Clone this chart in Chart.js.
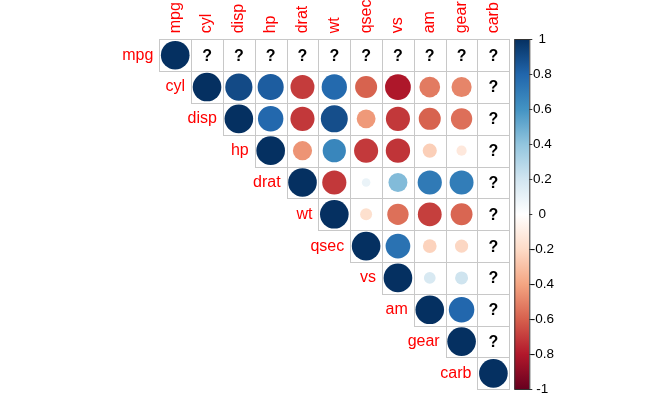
<!DOCTYPE html>
<html><head><meta charset="utf-8">
<script src="https://cdn.jsdelivr.net/npm/chart.js@4/dist/chart.umd.min.js"></script>
<style>html,body{margin:0;padding:0;background:#fff}#wrap{width:670px;height:394px}</style>
</head><body><div id="wrap"><canvas id="c" width="670" height="394"></canvas></div>
<script>
// variable names (categories)
const vars = ["mpg","cyl","disp","hp","drat","wt","qsec","vs","am","gear","carb"];
// upper-triangle correlations, each row starts at its diagonal; null = NA ("?")
const rowMpg  = [1, null, null, null, null, null, null, null, null, null, null];
const rowCyl  = [1, 0.902, 0.832, -0.700, 0.782, -0.591, -0.811, -0.523, -0.493, null];
const rowDisp = [1, 0.791, -0.710, 0.888, -0.434, -0.710, -0.591, -0.556, null];
const rowHp   = [1, -0.449, 0.659, -0.708, -0.723, -0.243, -0.126, null];
const rowDrat = [1, -0.712, 0.091, 0.440, 0.713, 0.700, null];
const rowWt   = [1, -0.175, -0.555, -0.692, -0.583, null];
const rowQsec = [1, 0.745, -0.230, -0.213, null];
const rowVs   = [1, 0.168, 0.206, null];
const rowAm   = [1, 0.794, null];
const rowGear = [1, null];
const rowCarb = [1];
// colour legend tick labels
const legendTicks = [1, 0.8, 0.6, 0.4, 0.2, 0, -0.2, -0.4, -0.6, -0.8, -1];

const rows = [rowMpg,rowCyl,rowDisp,rowHp,rowDrat,rowWt,rowQsec,rowVs,rowAm,rowGear,rowCarb];
const palette = ["#67001F","#B2182B","#D6604D","#F4A582","#FDDBC7","#FFFFFF","#D1E5F0","#92C5DE","#4393C3","#2166AC","#053061"];
function hex2rgb(h){return [parseInt(h.slice(1,3),16),parseInt(h.slice(3,5),16),parseInt(h.slice(5,7),16)];}
function colorFor(v){
  const t = (v+1)/2*(palette.length-1);
  const i = Math.min(Math.floor(t), palette.length-2);
  const f = t - i;
  const a = hex2rgb(palette[i]), b = hex2rgb(palette[i+1]);
  const c = a.map((x,k)=>Math.round(x+(b[k]-x)*f));
  return `rgb(${c[0]},${c[1]},${c[2]})`;
}

const points = [], naCells = [];
rows.forEach((row, r) => {
  row.forEach((v, k) => {
    const c = r + k;
    if (v === null) naCells.push({x:c, y:r});
    else points.push({x:c, y:r, v:v});
  });
});

const FONT = "'Liberation Sans', Arial, Helvetica, sans-serif";

const corrPlugin = {
  id: 'corr',
  beforeDatasetsDraw(chart){
    const ctx = chart.ctx, xs = chart.scales.x, ys = chart.scales.y;
    ctx.save();
    ctx.strokeStyle = '#C8C8C8';
    ctx.lineWidth = 1;
    rows.forEach((row, r) => {
      row.forEach((v, k) => {
        const c = r + k;
        const x0 = xs.getPixelForValue(c-0.5), x1 = xs.getPixelForValue(c+0.5);
        const y0 = ys.getPixelForValue(r-0.5), y1 = ys.getPixelForValue(r+0.5);
        ctx.strokeRect(Math.round(x0)+0.5, Math.round(y0)+0.5, Math.round(x1)-Math.round(x0), Math.round(y1)-Math.round(y0));
      });
    });
    ctx.restore();
  },
  afterDatasetsDraw(chart){
    const ctx = chart.ctx, xs = chart.scales.x, ys = chart.scales.y, cb = chart.scales.cb;
    const area = chart.chartArea;
    ctx.save();
    // NA marks
    ctx.fillStyle = '#000';
    ctx.font = "bold 16px " + FONT;
    ctx.textAlign = 'center'; ctx.textBaseline = 'middle';
    naCells.forEach(p => ctx.fillText('?', xs.getPixelForValue(p.x), ys.getPixelForValue(p.y)+1));
    // row labels
    ctx.fillStyle = '#FF0000';
    ctx.font = "16px " + FONT;
    ctx.textAlign = 'right'; ctx.textBaseline = 'middle';
    vars.forEach((n, i) => ctx.fillText(n, xs.getPixelForValue(i-0.5)-6, ys.getPixelForValue(i)));
    // column labels (rotated)
    ctx.textAlign = 'left'; ctx.textBaseline = 'middle';
    vars.forEach((n, i) => {
      ctx.save();
      ctx.translate(xs.getPixelForValue(i), ys.getPixelForValue(-0.5)-6);
      ctx.rotate(-Math.PI/2);
      ctx.fillText(n, 0, 0);
      ctx.restore();
    });
    // colour legend
    const bx = area.right + 5, bw = 15;
    const top = cb.getPixelForValue(1), bot = cb.getPixelForValue(-1);
    const g = ctx.createLinearGradient(0, bot, 0, top);
    palette.forEach((col, i) => g.addColorStop(i/(palette.length-1), col));
    ctx.fillStyle = g;
    ctx.fillRect(bx, top, bw, bot-top);
    ctx.strokeStyle = '#333';
    ctx.lineWidth = 1;
    ctx.strokeRect(bx+0.5, Math.round(top)+0.5, bw, Math.round(bot-top));
    ctx.fillStyle = '#000';
    ctx.strokeStyle = '#333';
    ctx.font = "13.5px " + FONT;
    ctx.textAlign = 'center'; ctx.textBaseline = 'middle';
    legendTicks.forEach(t => {
      const y = cb.getPixelForValue(t);
      ctx.beginPath(); ctx.moveTo(bx+bw, Math.round(y)+0.5); ctx.lineTo(bx+bw+3, Math.round(y)+0.5); ctx.stroke();
      ctx.fillText(String(t), bx+bw+13, y);
    });
    ctx.restore();
  }
};

new Chart(document.getElementById('c'), {
  type: 'scatter',
  data: { datasets: [{
    data: points,
    showLine: false,
    pointBackgroundColor: ctx => colorFor(ctx.raw.v),
    pointBorderWidth: 0,
    pointBorderColor: 'rgba(0,0,0,0)',
    pointRadius: ctx => {
      const xs = ctx.chart.scales.x;
      const cell = Math.abs(xs.getPixelForValue(1) - xs.getPixelForValue(0));
      return 0.45 * Math.sqrt(Math.abs(ctx.raw.v)) * cell;
    }
  }]},
  options: {
    responsive: false,
    animation: false,
    events: [],
    layout: { padding: { left: 159.3, right: 160.7, top: 39.3, bottom: 4.7 } },
    plugins: { legend: {display:false}, tooltip: {enabled:false} },
    scales: {
      x: { type:'linear', min:-0.5, max:10.5, display:false },
      y: { type:'linear', min:-0.5, max:10.5, reverse:true, display:false },
      cb: { type:'linear', min:-1, max:1, display:false, position:'right' }
    }
  },
  plugins: [corrPlugin]
});
</script>
</body></html>
